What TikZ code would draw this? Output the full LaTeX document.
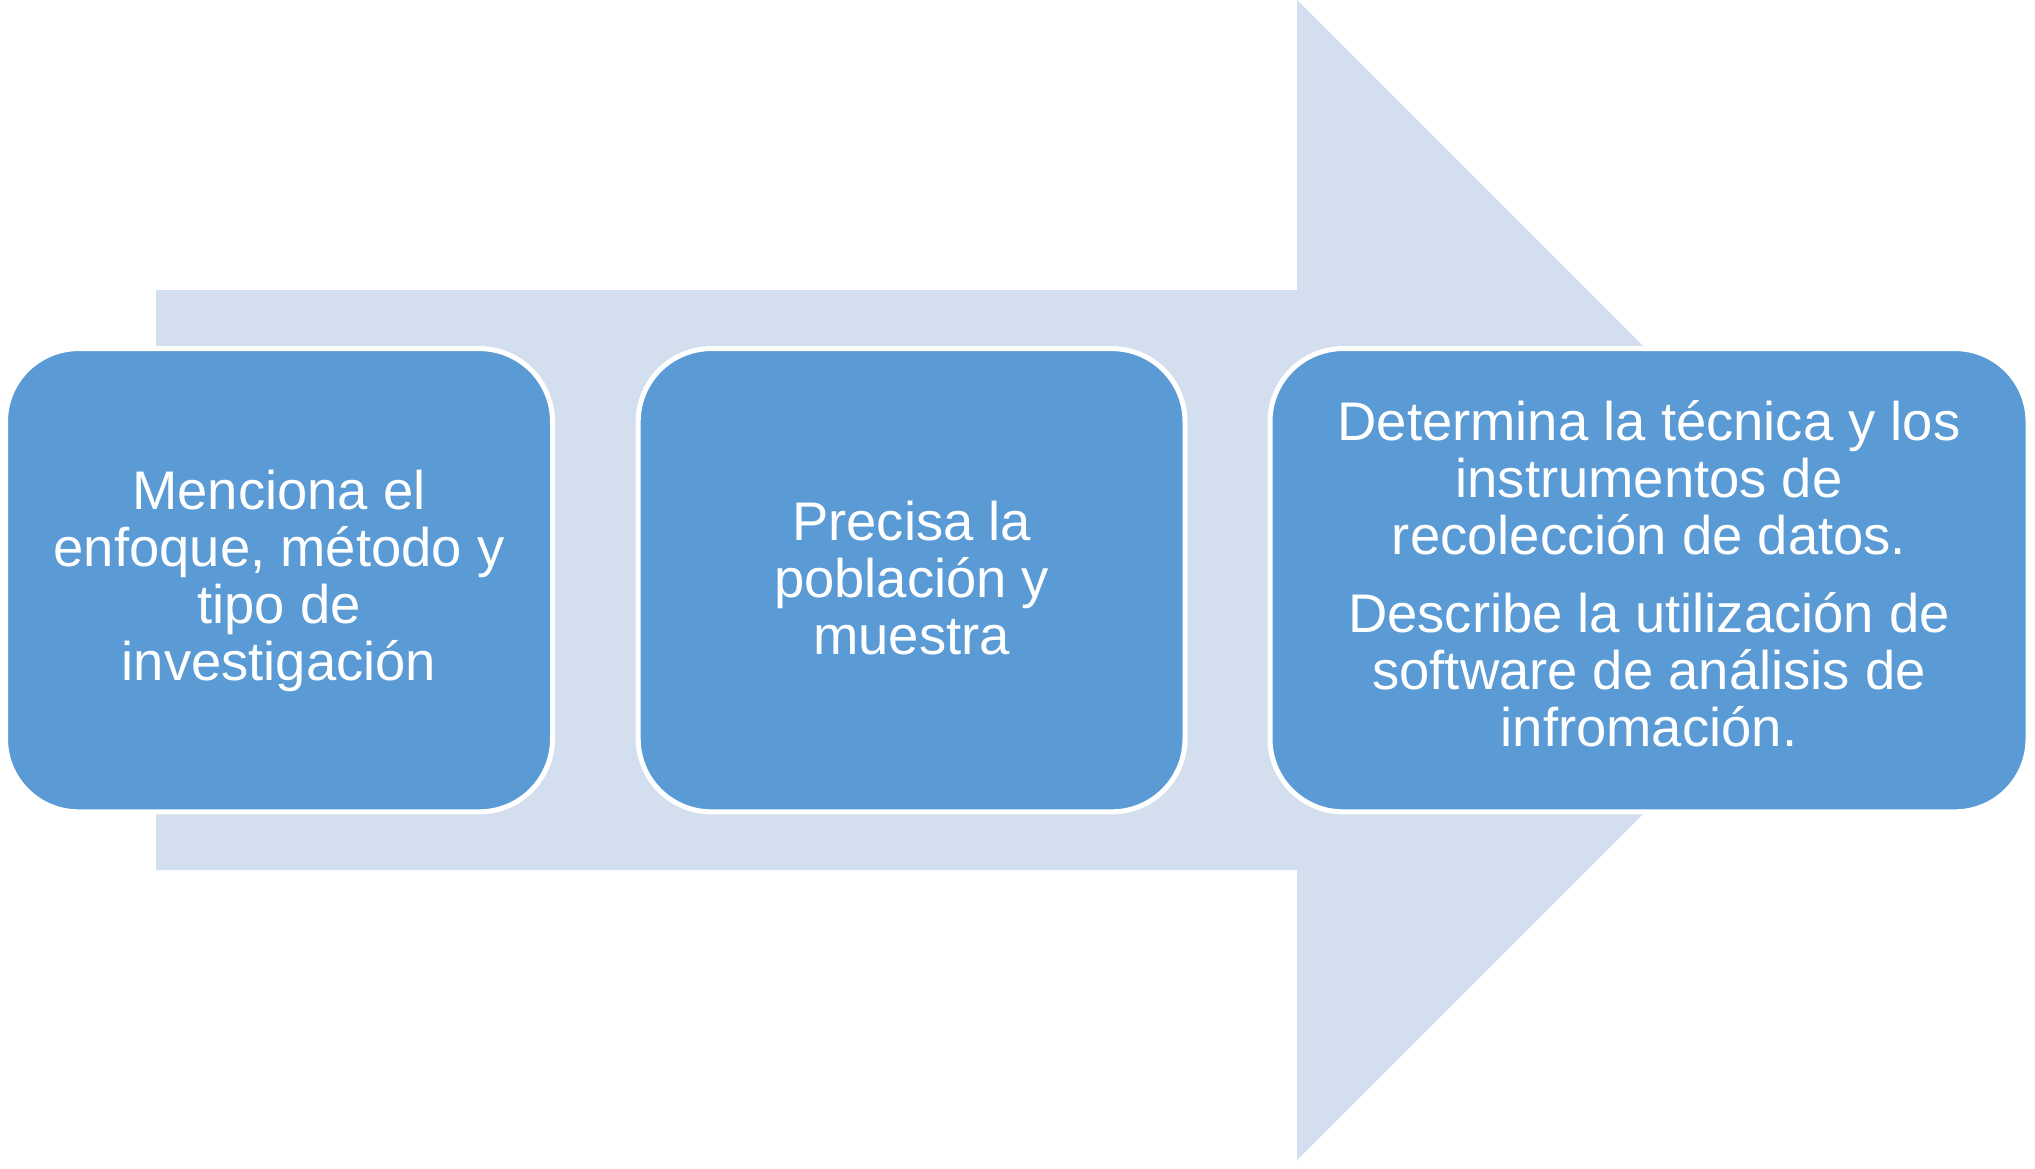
\documentclass[tikz,border=0pt]{standalone}
\usepackage{fontspec}
\setmainfont{Liberation Sans}
\definecolor{arrowfill}{HTML}{D3DEEF}
\definecolor{boxfill}{HTML}{5B9BD5}
\begin{document}
\begin{tikzpicture}[x=0.5pt,y=-0.5pt,
  stagebox/.style={draw=white, fill=boxfill, line width=2.5pt, rounded corners=36.5pt,
    minimum height=231.6pt, inner sep=0pt, outer sep=0pt},
  stagetext/.style={text=white, align=center, inner sep=0pt,
    font=\fontsize{27.2}{28.5}\selectfont}]
\useasboundingbox (0,0) rectangle (2035,1168);
\fill[white] (0,0) rectangle (2035,1168);
% big arrow
\fill[arrowfill] (156,290) -- (1297,290) -- (1297,0) -- (1877,580) -- (1297,1160) -- (1297,870) -- (156,870) -- cycle;
% boxes
\node[stagebox, minimum width=273.5pt] (b1) at (279,580.2) {};
\node[stagebox, minimum width=273.4pt] (b2) at (911.6,580.2) {};
\node[stagebox, minimum width=379pt] (b3) at (1649,580.2) {};
% texts
\node[stagetext, yshift=-0.6pt] (t1) at (b1.center) {Menciona el\\enfoque, método y\\tipo de\\investigación};
\node[stagetext, yshift=1.2pt] (t2) at (b2.center) {Precisa la\\población y\\muestra};
\node[stagetext, yshift=3pt] (t3) at (b3.center) {Determina la técnica y los\\instrumentos de\\recolección de datos.\\[10.5pt]Describe la utilización de\\software de análisis de\\infromación.};
\end{tikzpicture}
\end{document}
